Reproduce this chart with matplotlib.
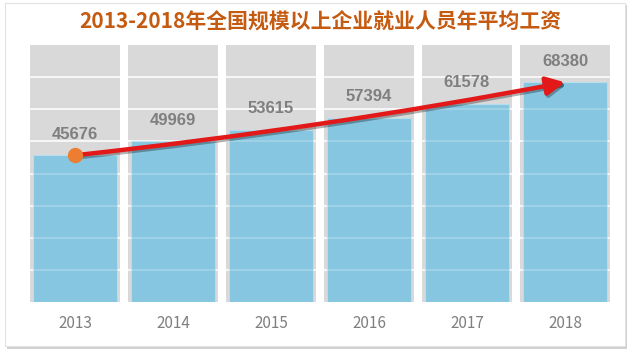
import matplotlib.pyplot as plt
import matplotlib.patheffects as pe
from matplotlib.patches import Rectangle

# data
years = ['2013', '2014', '2015', '2016', '2017', '2018']
wages = [45676, 49969, 53615, 57394, 61578, 68380]
y_max = 80000

plt.rcParams['font.family'] = ['Noto Sans CJK SC', 'DejaVu Sans']

fig = plt.figure(figsize=(6.4, 3.54), dpi=100)
fig.patch.set_facecolor('white')

# card with soft shadow
W, H = 640, 354
fig.patches.append(Rectangle((7 / W, 1 - 349 / H), 620 / W, 344 / H,
                             transform=fig.transFigure, facecolor='#9a9a9a',
                             alpha=0.45, edgecolor='none', zorder=-2))
fig.patches.append(Rectangle((5 / W, 1 - 346 / H), 620 / W, 343 / H,
                             transform=fig.transFigure, facecolor='white',
                             edgecolor='#e2e2e2', lw=0.8, zorder=-1))

ax = fig.add_axes([26 / W, 52 / H, 588 / W, 257 / H])
ax.set_zorder(2)
ax.set_facecolor('none')
x = range(len(years))

ax.bar(x, [y_max] * len(years), width=0.92, color='#d9d9d9', zorder=1)
for g in range(10000, y_max, 10000):
    ax.axhline(g, color='white', lw=1.3, alpha=0.8, zorder=1.5)
ax.bar(x, wages, width=0.865, color='#86c6e0', edgecolor='#b7dcec',
       linewidth=0.8, zorder=2)
for g in range(10000, y_max, 10000):
    ax.axhline(g, color='white', lw=1.2, alpha=0.25, zorder=3)

for i, v in enumerate(wages):
    ax.text(i, v + 6600, str(v), ha='center', va='center', fontsize=12,
            fontweight='bold', color='#7f7f7f', family='Liberation Sans',
            zorder=5)

# trend arrow
ax.annotate('', xy=(5, wages[-1]), xytext=(0, wages[0]),
            arrowprops=dict(arrowstyle='-|>,head_length=1.1,head_width=0.55',
                            color='#e31818', lw=3.2,
                            connectionstyle='arc3,rad=0.02',
                            shrinkA=0, shrinkB=0,
                            path_effects=[pe.SimpleLineShadow(offset=(1.2, -1.5),
                                                              alpha=0.3),
                                          pe.Normal()]),
            zorder=6)
ax.plot(0, wages[0], 'o', ms=10, color='#ed7d31', zorder=7)

ax.set_xlim(-0.5, 5.5)
ax.set_ylim(0, y_max)
ax.set_xticks(list(x))
ax.set_xticklabels(years, fontsize=11, color='#7f7f7f')
ax.tick_params(axis='x', length=0, pad=9)
ax.set_yticks([])
for s in ax.spines.values():
    s.set_visible(False)

fig.text(0.5, 1 - 22 / H, '2013-2018年全国规模以上企业就业人员年平均工资',
         ha='center', va='center', fontsize=15, fontweight='bold',
         color='#c55a11')

fig.savefig('out.png', dpi=100)
